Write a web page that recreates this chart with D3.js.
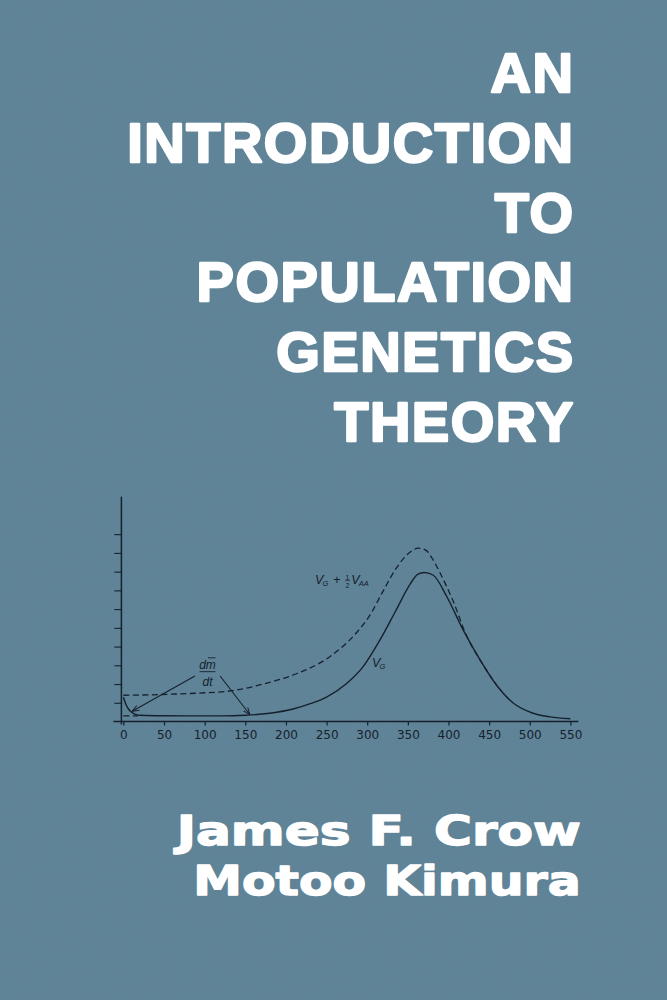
<!DOCTYPE html>
<html>
<head>
<meta charset="utf-8">
<script src="https://cdn.jsdelivr.net/npm/d3@7"></script>
<style>
  html, body { margin: 0; padding: 0; background: #5e8397; }
  svg { display: block; }
</style>
</head>
<body>
<div class="canvas"></div>
<script>
// generations on the x axis
const generations = [0, 3, 6, 10, 15, 20, 40, 80, 120, 150, 180, 210, 230, 250, 275, 295, 315, 335, 353, 362, 370, 381, 398, 418, 439, 459, 480, 504, 525, 550];
// V_G (solid curve) in y-tick units
const vG = [1.30, 0.92, 0.68, 0.50, 0.38, 0.33, 0.31, 0.30, 0.30, 0.33, 0.44, 0.68, 0.95, 1.30, 2.04, 2.93, 4.30, 5.90, 7.35, 7.85, 7.95, 7.82, 6.66, 4.89, 3.28, 1.95, 0.97, 0.44, 0.25, 0.15];

// V_G + 1/2 V_AA (dashed curve)
const gensAA = [0, 30, 60, 94, 135, 172, 213, 254, 287, 303, 320, 336, 353, 363, 372, 380, 390, 406, 422, 439, 459];
const vGplusAA = [1.40, 1.42, 1.46, 1.52, 1.65, 2.0, 2.55, 3.46, 4.75, 5.65, 7.0, 8.2, 9.05, 9.25, 9.15, 8.7, 7.9, 6.4, 4.6, 3.28, 1.95];

const xTicks = [0, 50, 100, 150, 200, 250, 300, 350, 400, 450, 500, 550];
const yTicks = [1, 2, 3, 4, 5, 6, 7, 8, 9, 10];

const titleLines = ['AN', 'INTRODUCTION', 'TO', 'POPULATION', 'GENETICS', 'THEORY'];
const authors = ['James F. Crow', 'Motoo Kimura'];

draw_cover();

function draw_cover(){

    const W = 667, H = 1000;
    const ink = '#15212d';

    const svg = d3.select('.canvas')
        .append('svg')
        .attr('width', W)
        .attr('height', H);

    // paper texture
    const defs = svg.append('defs');
    const grain = defs.append('filter').attr('id', 'grain')
        .attr('x', 0).attr('y', 0).attr('width', '100%').attr('height', '100%');
    grain.append('feTurbulence')
        .attr('type', 'fractalNoise')
        .attr('baseFrequency', 0.85)
        .attr('numOctaves', 2)
        .attr('seed', 3);
    grain.append('feColorMatrix')
        .attr('values', '0 0 0 0 0.1  0 0 0 0 0.15  0 0 0 0 0.2  0 0 0 0.14 0');

    svg.append('rect').attr('width', W).attr('height', H).attr('fill', '#608599');
    svg.append('rect').attr('width', W).attr('height', H).attr('filter', 'url(#grain)');

    // arrow head
    defs.append('marker')
        .attr('id', 'arrow')
        .attr('viewBox', '0 0 10 10')
        .attr('refX', 9).attr('refY', 5)
        .attr('markerWidth', 7).attr('markerHeight', 7)
        .attr('markerUnits', 'userSpaceOnUse')
        .attr('orient', 'auto')
      .append('path')
        .attr('d', 'M0,1 L10,5 L0,9')
        .attr('fill', 'none')
        .attr('stroke', ink)
        .attr('stroke-width', 1.4);

    // title, right aligned, heavy
    svg.append('g')
        .selectAll('text')
        .data(titleLines)
        .enter()
        .append('text')
        .attr('x', 574.5)
        .attr('y', (d, i) => 92 + i * 69.8)
        .attr('text-anchor', 'end')
        .attr('fill', '#ffffff')
        .attr('stroke', '#ffffff')
        .attr('stroke-width', 2.4)
        .attr('stroke-linejoin', 'round')
        .style('font-family', '"Liberation Sans", Arial, sans-serif')
        .style('font-weight', 'bold')
        .style('font-size', '56px')
        .style('letter-spacing', '1.5px')
        .text(d => d);

    // ---- chart ----
    const x = d3.scaleLinear().domain([0, 550]).range([123.4, 570.4]);
    const y = d3.scaleLinear().domain([0, 12]).range([721.5, 496.7]);

    const graph = svg.append('g');

    // axes lines
    graph.append('line')
        .attr('x1', x(0) - 10).attr('x2', x(550) + 8)
        .attr('y1', y(0)).attr('y2', y(0))
        .attr('stroke', ink).attr('stroke-width', 1.5);
    graph.append('line')
        .attr('x1', x(0) - 2).attr('x2', x(0) - 2)
        .attr('y1', y(12)).attr('y2', y(0) + 3)
        .attr('stroke', ink).attr('stroke-width', 1.5);

    const xAxis = d3.axisBottom(x)
        .tickValues(xTicks)
        .tickSize(4)
        .tickPadding(5)
        .tickSizeOuter(0);
    const xg = graph.append('g')
        .attr('transform', `translate(0, ${y(0)})`)
        .call(xAxis);
    xg.select('.domain').remove();
    xg.selectAll('line').attr('stroke', ink).attr('stroke-width', 1.2);
    xg.selectAll('text')
        .attr('fill', ink)
        .style('font-family', '"DejaVu Sans", sans-serif')
        .style('font-size', '12px');

    const yAxis = d3.axisLeft(y)
        .tickValues(yTicks)
        .tickSize(7)
        .tickFormat('')
        .tickSizeOuter(0);
    const yg = graph.append('g')
        .attr('transform', `translate(${x(0) - 2}, 0)`)
        .call(yAxis);
    yg.select('.domain').remove();
    yg.selectAll('line').attr('stroke', ink).attr('stroke-width', 1.1);

    const line = d3.line()
        .x(d => x(d[0]))
        .y(d => y(d[1]))
        .curve(d3.curveMonotoneX);

    // V_G + 1/2 V_AA
    graph.append('path')
        .datum(d3.zip(gensAA, vGplusAA))
        .attr('d', line)
        .attr('fill', 'none')
        .attr('stroke', ink)
        .attr('stroke-width', 1.3)
        .attr('stroke-dasharray', '6,3.5');

    // V_G
    graph.append('path')
        .datum(d3.zip(generations, vG))
        .attr('d', line)
        .attr('fill', 'none')
        .attr('stroke', ink)
        .attr('stroke-width', 1.4);

    // asymptote dash at the start
    graph.append('line')
        .attr('x1', x(0)).attr('x2', x(18))
        .attr('y1', y(0.30)).attr('y2', y(0.30))
        .attr('stroke', ink).attr('stroke-width', 1.2)
        .attr('stroke-dasharray', '6,3.5');

    // dm/dt label with its two arrows
    const lab = { x: 103.5 };
    const italic = '"Liberation Sans", Arial, sans-serif';
    graph.append('text')
        .attr('x', x(lab.x)).attr('y', y(2.8))
        .attr('text-anchor', 'middle')
        .attr('fill', ink)
        .style('font-family', italic).style('font-style', 'italic')
        .style('font-size', '12px')
        .text('dm');
    graph.append('line')      // bar over m
        .attr('x1', x(lab.x) + 0.5).attr('x2', x(lab.x) + 8)
        .attr('y1', y(3.4)).attr('y2', y(3.4))
        .attr('stroke', ink).attr('stroke-width', 0.9);
    graph.append('line')      // fraction bar
        .attr('x1', x(lab.x) - 8).attr('x2', x(lab.x) + 8)
        .attr('y1', y(2.66)).attr('y2', y(2.66))
        .attr('stroke', ink).attr('stroke-width', 0.9);
    graph.append('text')
        .attr('x', x(lab.x)).attr('y', y(1.9))
        .attr('text-anchor', 'middle')
        .attr('fill', ink)
        .style('font-family', italic).style('font-style', 'italic')
        .style('font-size', '12px')
        .text('dt');

    const arrows = [
        { from: [88, 2.43], to: [11.4, 0.56] },
        { from: [119, 2.43], to: [155, 0.40] }
    ];
    graph.selectAll('.arrow')
        .data(arrows)
        .enter()
        .append('line')
        .attr('class', 'arrow')
        .attr('x1', d => x(d.from[0])).attr('y1', d => y(d.from[1]))
        .attr('x2', d => x(d.to[0])).attr('y2', d => y(d.to[1]))
        .attr('stroke', ink).attr('stroke-width', 1.1)
        .attr('marker-end', 'url(#arrow)');

    // curve labels
    const lx = x(235.8), ly = y(7.33);
    const t1 = graph.append('text')
        .attr('x', lx).attr('y', ly)
        .attr('fill', ink)
        .style('font-family', italic).style('font-style', 'italic')
        .style('font-size', '12.5px');
    t1.append('tspan').text('V');
    t1.append('tspan').attr('dy', 2).attr('dx', -1).style('font-size', '7.5px').text('G');
    t1.append('tspan').attr('dy', -2).attr('dx', 5).style('font-style', 'normal').text('+');
    t1.append('tspan').attr('dx', 5).attr('dy', -4.5).style('font-size', '7px').style('font-style', 'normal').text('1');
    t1.append('tspan').attr('dx', -4).attr('dy', 8.5).style('font-size', '7px').style('font-style', 'normal').text('2');
    t1.append('tspan').attr('dx', 2).attr('dy', -4).text('V');
    t1.append('tspan').attr('dy', 2).attr('dx', -1).style('font-size', '7.5px').text('AA');
    graph.append('line')      // bar of the 1/2
        .attr('x1', lx + 30).attr('x2', lx + 35)
        .attr('y1', ly - 3.6).attr('y2', ly - 3.6)
        .attr('stroke', ink).attr('stroke-width', 0.6);

    const t2 = graph.append('text')
        .attr('x', x(306)).attr('y', y(2.9))
        .attr('fill', ink)
        .style('font-family', italic).style('font-style', 'italic')
        .style('font-size', '12.5px');
    t2.append('tspan').text('V');
    t2.append('tspan').attr('dy', 2).attr('dx', -1).style('font-size', '7.5px').text('G');

    // authors
    const authorStart = [176.7, 193.3];
    svg.append('g')
        .selectAll('text')
        .data(authors)
        .enter()
        .append('text')
        .attr('x', (d, i) => authorStart[i])
        .attr('y', (d, i) => 845 + i * 50)
        .attr('textLength', (d, i) => 580.7 - authorStart[i])
        .attr('lengthAdjust', 'spacingAndGlyphs')
        .attr('fill', '#ffffff')
        .attr('stroke', '#ffffff')
        .attr('stroke-width', 1.4)
        .attr('stroke-linejoin', 'round')
        .style('font-family', '"DejaVu Sans", sans-serif')
        .style('font-weight', 'bold')
        .style('font-size', '41px')
        .text(d => d);
}
</script>
</body>
</html>
